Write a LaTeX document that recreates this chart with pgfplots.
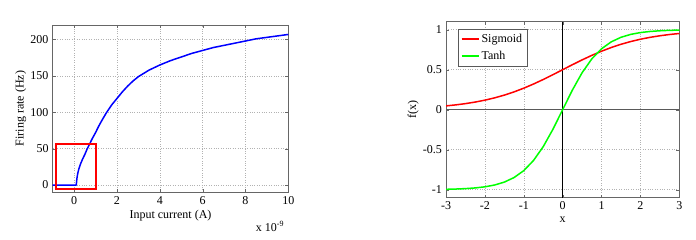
\documentclass[border=0pt]{standalone}
\usepackage{pgfplots}
\pgfplotsset{compat=1.18}
\usepackage{fontspec}
\setmainfont{Liberation Serif}
\begin{document}
\fontsize{12}{14}\selectfont
\begin{tikzpicture}[x=1pt,y=1pt]
\useasboundingbox (0,0) rectangle (696,240);
\pgfplotsset{
  mstyle/.style={
    scale only axis,
    /pgf/number format/assume math mode=true,
    tick align=inside, tick pos=both,
    major tick length=3pt,
    grid=major,
    major grid style={gray!60, dotted, line width=0.5pt},
    axis line style={gray!80!black, line width=0.5pt},
    tick style={gray!80!black},
    ticklabel style={font=\fontsize{12}{14}\selectfont},
    label style={font=\fontsize{12}{14}\selectfont},
  }
}
\begin{axis}[mstyle,
  at={(52.7pt,47.7pt)}, anchor=south west,
  width=235.6pt, height=167.3pt,
  xmin=-1, xmax=10, ymin=-10, ymax=220,
  xtick={0,2,4,6,8,10}, ytick={0,50,100,150,200},
  xlabel={Input current (A)}, ylabel={Firing rate (Hz)},
  xlabel style={yshift=3pt}, ylabel style={yshift=-4pt},
  clip=false]
\addplot[blue, line width=1.5pt, line join=round] coordinates {
(-1,0) (0.1,0) (0.13,9) (0.17,16) (0.22,22) (0.3,29) (0.4,36) (0.5,42) (0.6,49) (0.7,55) (0.85,64) (1,72)
(1.15,81) (1.3,89) (1.5,99) (1.75,110) (2,119) (2.25,128) (2.5,136) (2.75,143) (3,149) (3.5,158) (4,165) (4.5,171) (5,176)
(5.5,181) (6,185) (6.5,189) (7,192) (7.5,195) (8,198) (8.5,201) (9,203) (9.5,205) (10,207)};
\draw[red, line width=2pt] (axis cs:-0.84,-5) rectangle (axis cs:1.0,56.5);
\node[anchor=north east, font=\fontsize{12}{14}\selectfont] at (rel axis cs:1.0,-0.15) {x 10\textsuperscript{-9}};
\end{axis}
\begin{axis}[mstyle,
  at={(446pt,42.3pt)}, anchor=south west,
  width=233.3pt, height=176pt,
  xmin=-3, xmax=3, ymin=-1.1, ymax=1.1,
  xtick={-3,-2,-1,0,1,2,3}, ytick={-1,-0.5,0,0.5,1},
  xlabel={x}, ylabel={f(x)},
  xlabel style={yshift=1pt}, ylabel style={yshift=-4pt},
  legend style={at={(rel axis cs:0.05,0.96)}, anchor=north west,
    draw=gray!70!black, font=\fontsize{12}{14}\selectfont,
    inner xsep=3pt, inner ysep=3pt, row sep=3pt},
  legend image post style={line width=1.6pt},
  legend cell align=left]
\addplot[gray!70!black, line width=1pt, forget plot] coordinates {(-3,0) (3,0)};
\addplot[black, line width=0.7pt, forget plot] coordinates {(0,-1.1) (0,1.1)};
\addplot[red, line width=1.5pt] coordinates {
(-3,0.0474) (-2.75,0.0601) (-2.5,0.0759) (-2.25,0.0953) (-2,0.1192) (-1.75,0.1480) (-1.5,0.1824)
(-1.25,0.2227) (-1,0.2689) (-0.75,0.3208) (-0.5,0.3775) (-0.25,0.4378) (0,0.5) (0.25,0.5622)
(0.5,0.6225) (0.75,0.6792) (1,0.7311) (1.25,0.7773) (1.5,0.8176) (1.75,0.8520) (2,0.8808)
(2.25,0.9047) (2.5,0.9241) (2.75,0.9399) (3,0.9526)};
\addlegendentry{Sigmoid}
\addplot[green, line width=1.5pt] coordinates {
(-3,-0.9951) (-2.75,-0.9918) (-2.5,-0.9866) (-2.25,-0.9780) (-2,-0.9640) (-1.75,-0.9414)
(-1.5,-0.9051) (-1.25,-0.8483) (-1,-0.7616) (-0.75,-0.6351) (-0.5,-0.4621) (-0.25,-0.2449)
(0,0) (0.25,0.2449) (0.5,0.4621) (0.75,0.6351) (1,0.7616) (1.25,0.8483) (1.5,0.9051)
(1.75,0.9414) (2,0.9640) (2.25,0.9780) (2.5,0.9866) (2.75,0.9918) (3,0.9951)};
\addlegendentry{Tanh}
\end{axis}
\end{tikzpicture}
\end{document}
